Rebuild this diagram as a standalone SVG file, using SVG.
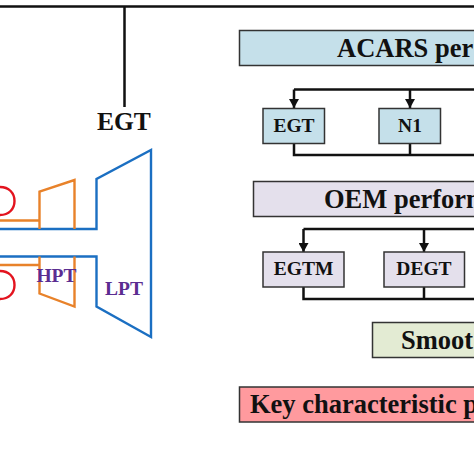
<svg xmlns="http://www.w3.org/2000/svg" width="474" height="474" viewBox="0 0 474 474">
<style>
text{font-family:"Liberation Serif","Times New Roman",serif;font-weight:bold;fill:#111;text-anchor:start}
.big{font-size:26.500px}
.mid{font-size:19.500px;text-anchor:middle}
.box{stroke:#333;stroke-width:1.500}
.a{fill:#c5e0ea}.o{fill:#e4e0ec}.s{fill:#e3ebd3}.k{fill:#ff9a9e}
.line{fill:none;stroke:#111;stroke-width:2.500}
.bl{fill:none;stroke:#1b6fc2;stroke-width:2.400}
.or{fill:none;stroke:#e8822a;stroke-width:2.400}
.rd{fill:none;stroke:#e3141f;stroke-width:2.400}
.pu{font-size:19.500px;fill:#5b2d91;text-anchor:middle}
</style>
<defs><marker id="ah" markerUnits="userSpaceOnUse" markerWidth="10" markerHeight="10" refX="9" refY="5" orient="auto"><path d="M0 0L9 5L0 10Z" fill="#111"/></marker></defs>
<g id="connectors">
<path class="line" d="M0 6.500H474M124.500 6V107"/>
<path class="line" d="M294 89.500H474"/>
<path class="line" d="M294 89.500V108" marker-end="url(#ah)"/>
<path class="line" d="M410 89.500V108" marker-end="url(#ah)"/>
<path class="line" d="M294 143V155H474M410 143V155"/>
<path class="line" d="M303.500 229H474"/>
<path class="line" d="M303.500 229V252" marker-end="url(#ah)"/>
<path class="line" d="M424 229V252" marker-end="url(#ah)"/>
<path class="line" d="M303.500 287V299H474M424 287V299"/>
</g>
<g id="engine">
<path class="bl" d="M0 229H96.500V179L151 150V337L96.500 306.500V256.500H0"/>
<path class="or" d="M0 220.500H39.500M39.500 229V191.500L74.500 180V229M0 265H39.500M39.500 256.500V293.500L74.500 306.500V256.500"/>
<path class="rd" d="M0 187C9 187 14.500 193 14.500 201C14.500 209 9 215 0 215M0 271C9 271 14.500 277 14.500 285C14.500 293 9 299 0 299"/>
<text class="pu" x="56.500" y="282">HPT</text>
<text class="pu" x="124" y="295">LPT</text>
<text x="97" y="130" style="font-size:25.500px">EGT</text>
</g>
<g id="acars"><rect class="box a" x="239.500" y="30.500" width="240" height="35"/><text class="big" x="337" y="57">ACARS per</text></g>
<g id="n-egt"><rect class="box a" x="263" y="108.500" width="61.500" height="35"/><text class="mid" x="294" y="132">EGT</text></g>
<g id="n-n1"><rect class="box a" x="379" y="108.500" width="61.500" height="35"/><text class="mid" x="410" y="132">N1</text></g>
<g id="oem"><rect class="box o" x="253.500" y="181.500" width="226" height="35"/><text class="big" x="324" y="208">OEM perform</text></g>
<g id="n-egtm"><rect class="box o" x="263" y="252" width="81" height="35"/><text class="mid" x="303.500" y="275">EGTM</text></g>
<g id="n-degt"><rect class="box o" x="384" y="252" width="80.500" height="35"/><text class="mid" x="424" y="275">DEGT</text></g>
<g id="smooth"><rect class="box s" x="372.500" y="322.500" width="107" height="35"/><text class="big" x="401" y="349">Smoot</text></g>
<g id="key"><rect class="box k" x="239.500" y="387" width="240" height="35"/><text class="big" x="250" y="413">Key characteristic p</text></g>
</svg>
